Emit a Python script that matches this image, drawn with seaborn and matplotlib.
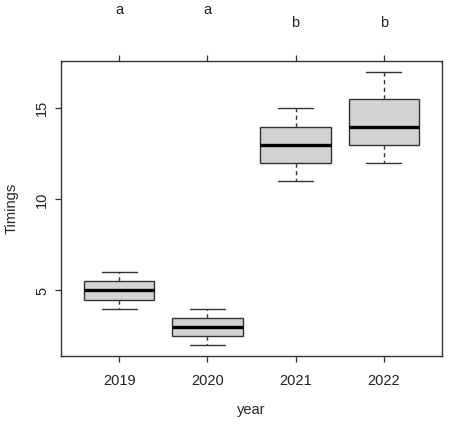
import matplotlib
matplotlib.use("Agg")
import matplotlib.pyplot as plt
import seaborn as sns
import pandas as pd

years = ["2019", "2020", "2021", "2022"]
timings_2019 = [4, 4.5, 5, 5.5, 6]
timings_2020 = [2, 2.5, 3, 3.5, 4]
timings_2021 = [11, 12, 13, 14, 15]
timings_2022 = [12, 13, 14, 15.5, 17]
letters = ["a", "a", "b", "b"]
letter_offsets = [37, 27]  # pts above axes for a / b rows
yticks = [5, 10, 15]

df = pd.DataFrame({
    "year": sum([[y] * len(v) for y, v in zip(years, [timings_2019, timings_2020, timings_2021, timings_2022])], []),
    "Timings": timings_2019 + timings_2020 + timings_2021 + timings_2022,
})

sns.set_style("white")
plt.rcParams["font.family"] = ["Liberation Sans", "DejaVu Sans"]

fig = plt.figure(figsize=(4.74, 4.33), dpi=100)
ax = fig.add_axes([61/474, 1-356/433, (442-61)/474, (356-61)/433])

edge = "#333333"
sns.boxplot(data=df, x="year", y="Timings", order=years, ax=ax,
            color="#D3D3D3", width=0.8, linewidth=1.0, linecolor=edge,
            saturation=1,
            medianprops=dict(color="black", linewidth=2.4),
            whiskerprops=dict(color=edge, linestyle=(0, (3, 2.5)), linewidth=1.0),
            capprops=dict(color=edge, linewidth=1.0),
            boxprops=dict(edgecolor=edge, facecolor="#D3D3D3"))

ax.set_xlim(-0.66, 3.66)
ax.set_ylim(1.4, 17.6)
ax.set_yticks(yticks)
ax.set_yticklabels([str(t) for t in yticks], rotation=90, va="center")
ax.set_xlabel("year", fontsize=10.5, labelpad=11)
ax.set_ylabel("Timings", fontsize=10.5, labelpad=12)

for s in ax.spines.values():
    s.set_color(edge)
    s.set_linewidth(1.0)
    s.set_visible(True)

ax.tick_params(axis="both", which="both", direction="out", length=4.5, width=0.9,
               color=edge, labelsize=10.5, labelcolor="#222222", pad=7)
ax.tick_params(axis="x", top=True, labeltop=False, bottom=True, pad=8.5)
ax.tick_params(axis="y", left=True, pad=4)

for i, lab in enumerate(letters):
    off = letter_offsets[0] if lab == "a" else letter_offsets[1]
    ax.annotate(lab, xy=(i, 1), xycoords=ax.get_xaxis_transform(),
                xytext=(0, off), textcoords="offset points",
                ha="center", va="center", fontsize=10.5, color="#222222",
                annotation_clip=False)

fig.savefig("out.png", dpi=100)
